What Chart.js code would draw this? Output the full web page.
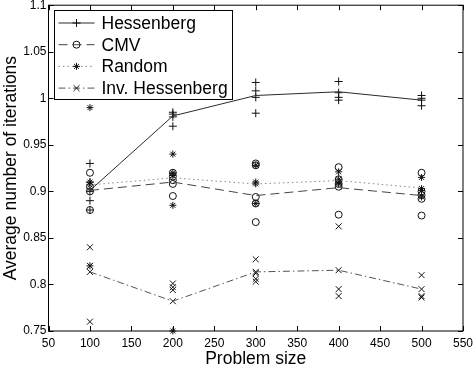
<!DOCTYPE html>
<html>
<head>
<meta charset="utf-8">
<script src="https://cdn.jsdelivr.net/npm/chart.js@4/dist/chart.umd.min.js"></script>
<style>
  html, body { margin: 0; padding: 0; background: #fff; }
  #wrap { width: 474px; height: 365px; }
</style>
</head>
<body>
<div id="wrap"><canvas id="chart"></canvas></div>
<script>
const sizes = [100, 200, 300, 400, 500];
const xTicks = [50, 100, 150, 200, 250, 300, 350, 400, 450, 500, 550];
const yTicks = [0.75, 0.8, 0.85, 0.9, 0.95, 1, 1.05, 1.1];
const seriesNames = ['Hessenberg', 'CMV', 'Random', 'Inv. Hessenberg'];

// averages (lines)
const hessMean = [0.901, 0.981, 1.003, 1.007, 0.998];
const cmvMean = [0.901, 0.910, 0.8955, 0.904, 0.8955];
const randMean = [0.907, 0.9145, 0.908, 0.9116, 0.9036];
const invMean = [0.8135, 0.782, 0.8135, 0.8153, 0.795];

// individual runs (markers), one list per problem size
const hessRuns = [
  [0.93, 0.91, 0.90, 0.89, 0.88],
  [0.985, 0.983, 0.98, 0.97],
  [1.017, 1.008, 1.001, 0.984],
  [1.018, 1.006, 1.001, 0.998],
  [1.003, 1.0, 0.998, 0.992]
];
const cmvRuns = [
  [0.92, 0.905, 0.90, 0.88],
  [0.92, 0.916, 0.912, 0.908, 0.895],
  [0.93, 0.928, 0.894, 0.887, 0.867],
  [0.926, 0.913, 0.908, 0.905, 0.875],
  [0.92, 0.90, 0.896, 0.892, 0.874]
];
const randRuns = [
  [0.99, 0.91, 0.907, 0.82],
  [0.94, 0.92, 0.917, 0.885, 0.75],
  [0.928, 0.91, 0.908, 0.887],
  [0.921, 0.913, 0.91, 0.908],
  [0.915, 0.903, 0.901, 0.894]
];
const invRuns = [
  [0.84, 0.82, 0.8135, 0.76],
  [0.801, 0.797, 0.794, 0.782],
  [0.827, 0.8135, 0.812, 0.806, 0.803],
  [0.8624, 0.8153, 0.795, 0.7875],
  [0.81, 0.795, 0.7875, 0.786]
];

const FONT = '"Liberation Sans", Arial, Helvetica, sans-serif';

const styles = [
  { color: '#2a2a2a', dash: [], point: 'cross', r: 4 },
  { color: '#444', dash: [9, 5], point: 'circle', r: 3.5 },
  { color: '#888', dash: [1.5, 3], point: 'star', r: 3.5 },
  { color: '#555', dash: [7, 3, 1.5, 3], point: 'crossRot', r: 4.2 }
];

const toLine = arr => arr.map((v, i) => ({ x: sizes[i], y: v }));
const toPts = runs => runs.flatMap((list, i) => list.map(v => ({ x: sizes[i], y: v })));

const means = [hessMean, cmvMean, randMean, invMean];
const runs = [hessRuns, cmvRuns, randRuns, invRuns];

const datasets = [];
means.forEach((m, k) => {
  datasets.push({
    label: seriesNames[k], type: 'line', data: toLine(m),
    borderColor: styles[k].color, borderWidth: 1, borderDash: styles[k].dash,
    pointRadius: 0, fill: false, tension: 0
  });
});
runs.forEach((r, k) => {
  datasets.push({
    label: seriesNames[k] + ' runs', type: 'scatter', data: toPts(r),
    pointStyle: styles[k].point, pointRadius: styles[k].r,
    borderColor: '#111', backgroundColor: 'rgba(0,0,0,0)', pointBorderWidth: 1,
    clip: false
  });
});

// MATLAB-like box: inward ticks on all sides, legend inside top-left
const boxPlugin = {
  id: 'box',
  afterDatasetsDraw(chart) {
    const { ctx, chartArea: a, scales } = chart;
    ctx.save();
    ctx.strokeStyle = '#000';
    ctx.lineWidth = 1;
    ctx.strokeRect(a.left, a.top, a.right - a.left, a.bottom - a.top);
    ctx.beginPath();
    xTicks.forEach(t => {
      const x = Math.round(scales.x.getPixelForValue(t)) + 0.5;
      ctx.moveTo(x, a.bottom); ctx.lineTo(x, a.bottom - 5);
      ctx.moveTo(x, a.top); ctx.lineTo(x, a.top + 5);
    });
    yTicks.forEach(t => {
      const y = Math.round(scales.y.getPixelForValue(t)) + 0.5;
      ctx.moveTo(a.left, y); ctx.lineTo(a.left + 5, y);
      ctx.moveTo(a.right, y); ctx.lineTo(a.right - 5, y);
    });
    ctx.stroke();

    // legend
    const L = 54.5, T = 10.5, W = 178, H = 89;
    ctx.fillStyle = '#fff';
    ctx.fillRect(L, T, W, H);
    ctx.strokeStyle = '#000';
    ctx.strokeRect(L, T, W, H);
    ctx.font = '17.5px ' + FONT;
    ctx.textBaseline = 'middle';
    seriesNames.forEach((name, k) => {
      const y = T + 12.5 + k * 21.7;
      const s = styles[k];
      ctx.strokeStyle = s.color;
      ctx.setLineDash(s.dash);
      ctx.beginPath();
      ctx.moveTo(L + 4, y); ctx.lineTo(L + 40, y);
      ctx.stroke();
      ctx.setLineDash([]);
      ctx.strokeStyle = '#111';
      ctx.fillStyle = 'rgba(0,0,0,0)';
      Chart.helpers.drawPoint(ctx, { pointStyle: s.point, radius: s.r, borderWidth: 1 }, L + 22, y);
      ctx.fillStyle = '#000';
      ctx.fillText(name, L + 47, y + 1);
    });
    ctx.restore();
  }
};

new Chart(document.getElementById('chart'), {
  data: { datasets },
  plugins: [boxPlugin],
  options: {
    responsive: true,
    maintainAspectRatio: false,
    animation: false,
    layout: { padding: { top: 4, right: 11, left: 0, bottom: 0 } },
    plugins: { legend: { display: false }, tooltip: { enabled: false } },
    scales: {
      x: {
        type: 'linear', min: 50, max: 550,
        afterBuildTicks: s => { s.ticks = xTicks.map(v => ({ value: v })); },
        afterFit: s => { s.height = 34; s.paddingLeft = 0; s.paddingRight = 0; },
        grid: { display: false, drawTicks: false },
        border: { display: false },
        ticks: { color: '#000', font: { family: FONT, size: 12 }, padding: 5, maxRotation: 0 },
        title: { display: true, text: 'Problem size', color: '#000', font: { family: FONT, size: 17.5, lineHeight: 1 }, padding: { top: 0, bottom: -2.5 } }
      },
      y: {
        type: 'linear', min: 0.75, max: 1.1,
        afterBuildTicks: s => { s.ticks = yTicks.map(v => ({ value: v })); },
        afterFit: s => { s.width = 48.5; s.paddingTop = 0; s.paddingBottom = 0; },
        grid: { display: false, drawTicks: false },
        border: { display: false },
        ticks: { color: '#000', font: { family: FONT, size: 12 }, padding: 2,
          callback: v => String(+v.toFixed(2)) },
        title: { display: true, text: 'Average number of iterations', color: '#000', font: { family: FONT, size: 17.5 }, padding: { top: 1, bottom: 0 } }
      }
    }
  }
});
</script>
</body>
</html>
